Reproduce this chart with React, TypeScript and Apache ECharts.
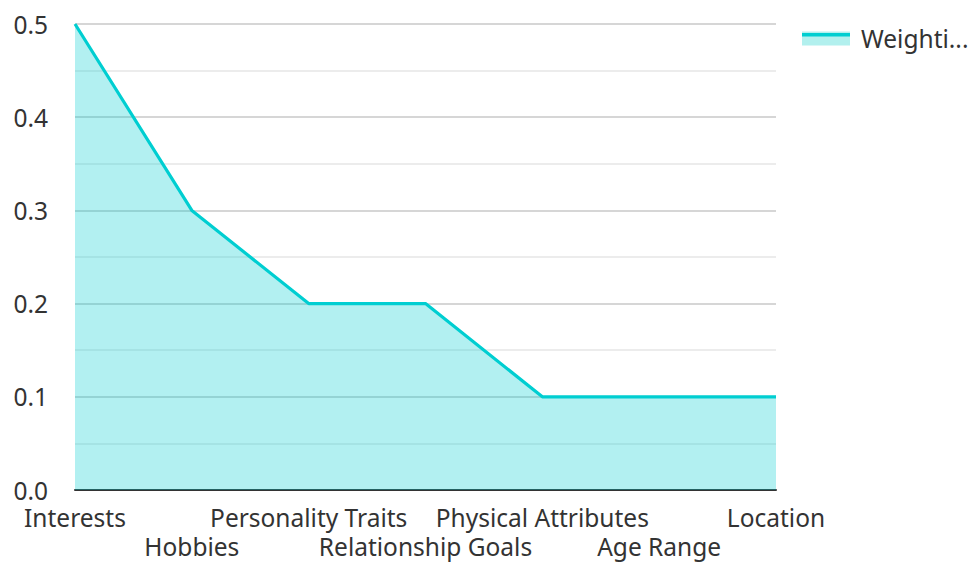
import React, { useEffect, useRef } from "react";
import * as echarts from "echarts";

const categories = [
  "Interests",
  "Hobbies",
  "Personality Traits",
  "Relationship Goals",
  "Physical Attributes",
  "Age Range",
  "Location",
];
const weights = [0.5, 0.3, 0.2, 0.2, 0.1, 0.1, 0.1];
const seriesName = "Weighting";
const yMin = 0;
const yMax = 0.5;
const yInterval = 0.1;

export default function App() {
  const ref = useRef<HTMLDivElement>(null);
  useEffect(() => {
    if (!ref.current) return;
    const chart = echarts.init(ref.current, undefined, { renderer: "svg" });
    const font = "'Noto Sans', sans-serif";
    chart.setOption({
      animation: false,
      textStyle: { fontFamily: font },
      grid: {
        left: 75,
        right: 195,
        top: 24,
        bottom: 74,
        containLabel: false,
        outerBoundsMode: "none",
      },
      legend: {
        show: true,
        left: 802,
        top: 26,
        padding: 0,
        itemWidth: 48,
        itemHeight: 14,
        icon: "rect",
        itemStyle: { color: "#b2f0ee", borderWidth: 0 },
        textStyle: {
          fontFamily: font,
          fontSize: 24.5,
          color: "#333",
          width: 114,
          overflow: "truncate",
          ellipsis: "...",
          padding: [0, 0, 0, 6],
        },
        data: [{ name: seriesName }],
      },
      graphic: [
        {
          type: "rect",
          shape: { x: 802, y: 33, width: 48, height: 3.5 },
          style: { fill: "#00ced1" },
          z: 100,
        },
      ],
      xAxis: {
        type: "category",
        data: categories,
        boundaryGap: false,
        axisLine: { show: true, lineStyle: { color: "#333", width: 2 } },
        axisTick: { show: false },
        axisLabel: {
          interval: 0,
          fontFamily: font,
          fontSize: 24.5,
          color: "#333",
          margin: 13,
          lineHeight: 29,
          formatter: (v: string, i: number) => (i % 2 === 1 ? "\n" + v : v),
        },
        splitLine: { show: false },
      },
      yAxis: {
        type: "value",
        min: yMin,
        max: yMax,
        interval: yInterval,
        axisLine: { show: false },
        axisTick: { show: false },
        axisLabel: {
          fontFamily: font,
          fontSize: 24.5,
          lineHeight: 20,
          color: "#333",
          margin: 27,
          formatter: (v: number) => v.toFixed(1),
        },
        splitLine: { show: true, lineStyle: { color: "#c8c8c8", width: 1.5 } },
        minorTick: { show: false, splitNumber: 2 },
        minorSplitLine: { show: true, lineStyle: { color: "#e6e6e6", width: 1.5 } },
      },
      series: [
        {
          name: seriesName,
          type: "line",
          data: weights,
          showSymbol: false,
          symbol: "none",
          lineStyle: { color: "#00ced1", width: 3.2 },
          itemStyle: { color: "#00ced1" },
          areaStyle: { color: "#00ced1", opacity: 0.3 },
        },
      ],
    });
    return () => chart.dispose();
  }, []);
  return <div ref={ref} style={{ width: 971, height: 564, position: "absolute", left: 0, top: 0 }} />;
}
